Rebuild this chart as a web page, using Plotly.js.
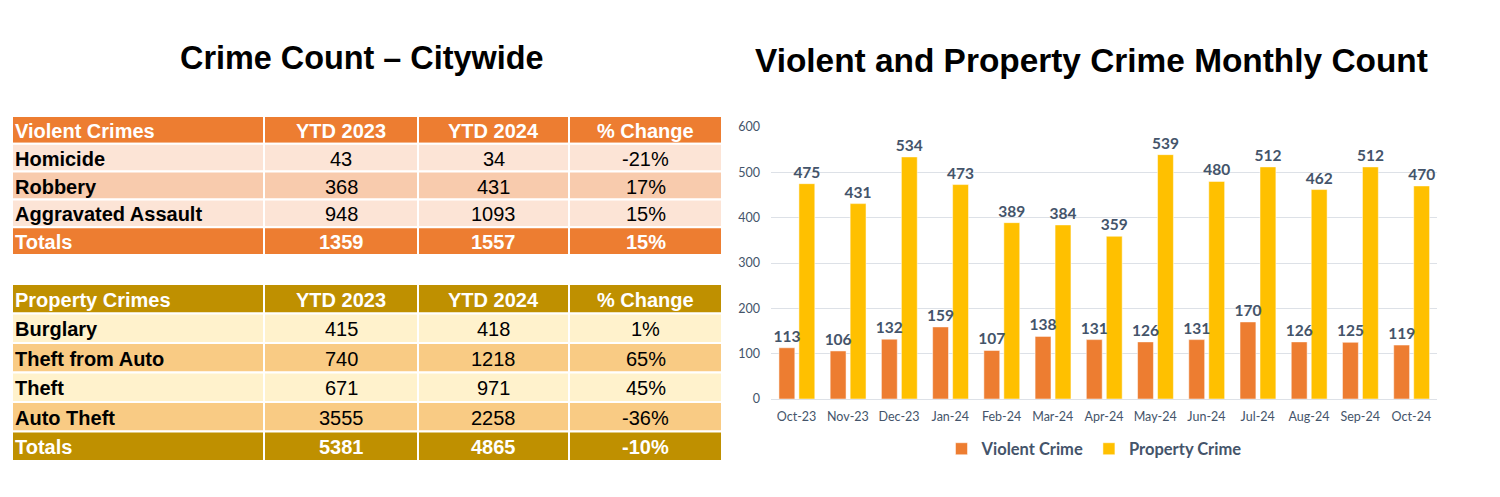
<!DOCTYPE html>
<html>
<head>
<meta charset="utf-8">
<script src="https://cdn.plot.ly/plotly-3.0.1.min.js"></script>
<style>
  html, body { margin: 0; padding: 0; background: #ffffff; }
  #chart { width: 1500px; height: 497px; }
</style>
</head>
<body>
<div id="chart"></div>
<script>
// ---- Violent crimes table ----
const violentNames = ['Homicide', 'Robbery', 'Aggravated Assault'];
const violentYTD2023 = [43, 368, 948];
const violentYTD2024 = [34, 431, 1093];
const violentChange = ['-21%', '17%', '15%'];
const violentTotals = [1359, 1557, '15%'];

// ---- Property crimes table ----
const propertyNames = ['Burglary', 'Theft from Auto', 'Theft', 'Auto Theft'];
const propertyYTD2023 = [415, 740, 671, 3555];
const propertyYTD2024 = [418, 1218, 971, 2258];
const propertyChange = ['1%', '65%', '45%', '-36%'];
const propertyTotals = [5381, 4865, '-10%'];

const tableColumns = ['YTD 2023', 'YTD 2024', '% Change'];

// ---- Monthly counts ----
const months = ['Oct-23', 'Nov-23', 'Dec-23', 'Jan-24', 'Feb-24', 'Mar-24', 'Apr-24',
                'May-24', 'Jun-24', 'Jul-24', 'Aug-24', 'Sep-24', 'Oct-24'];
const violentMonthly = [113, 106, 132, 159, 107, 138, 131, 126, 131, 170, 126, 125, 119];
const propertyMonthly = [475, 431, 534, 473, 389, 384, 359, 539, 480, 512, 462, 512, 470];

const W = 1500, H = 497;
const px = x => x / W;
const py = y => 1 - y / H;

const ARIAL = 'Arial, "Liberation Sans", sans-serif';
const LATO = 'Lato, Carlito, Calibri, sans-serif';
const SLATE = '#44546A';

// Relative column widths of the two tables (first column holds the crime names).
const colWidths = [252, 154, 151, 153];
const colEdges = colWidths.reduce((acc, w) => acc.concat([acc[acc.length - 1] + w]), [0]);
const tableSpan = colEdges[colEdges.length - 1];

const shapes = [];
const annotations = [];

// Draws one table on its own hidden axis pair: x in column-width units, y in row units.
function crimeTable(xref, yref, title, names, a, b, chg, totals, headColor, rowColors) {
  const rows = [];
  rows.push({ cells: ['<b>' + title + '</b>'].concat(tableColumns.map(t => '<b>' + t + '</b>')),
              fill: headColor, color: '#ffffff' });
  names.forEach((n, i) => rows.push({
    cells: ['<b>' + n + '</b>', String(a[i]), String(b[i]), chg[i]],
    fill: rowColors[i], color: '#000000' }));
  rows.push({ cells: ['<b>Totals</b>'].concat(totals.map(t => '<b>' + t + '</b>')),
              fill: headColor, color: '#ffffff' });

  rows.forEach((row, r) => {
    row.cells.forEach((txt, c) => {
      shapes.push({
        type: 'rect', xref: xref, yref: yref, layer: 'below',
        x0: colEdges[c], x1: colEdges[c + 1], y0: r, y1: r + 1,
        fillcolor: row.fill, line: { color: '#ffffff', width: 2 }
      });
      const left = c === 0;
      annotations.push({
        xref: xref, yref: yref, showarrow: false,
        x: left ? colEdges[c] + 1 : (colEdges[c] + colEdges[c + 1]) / 2,
        xanchor: left ? 'left' : 'center',
        y: r + 0.5, yanchor: 'middle', yshift: -1,
        text: txt, font: { family: ARIAL, size: 20, color: row.color }
      });
    });
  });
  return rows.length;
}

const violentRows = crimeTable('x2', 'y2', 'Violent Crimes', violentNames, violentYTD2023,
  violentYTD2024, violentChange, violentTotals, '#ED7D31', ['#FCE4D6', '#F8CBAD', '#FCE4D6']);
const propertyRows = crimeTable('x2', 'y3', 'Property Crimes', propertyNames, propertyYTD2023,
  propertyYTD2024, propertyChange, propertyTotals, '#BF9000', ['#FFF2CC', '#F9CB84', '#FFF2CC', '#F9CB84']);

// Titles
annotations.push(
  { text: '<b>Crime Count – Citywide</b>', xref: 'paper', yref: 'paper',
    x: px(362), y: py(58), xanchor: 'center', yanchor: 'middle', showarrow: false,
    font: { family: ARIAL, size: 32.4, color: '#000000' } },
  { text: '<b>Violent and Property Crime Monthly Count</b>', xref: 'paper', yref: 'paper',
    x: px(1091), y: py(60), xanchor: 'center', yanchor: 'middle', showarrow: false,
    font: { family: ARIAL, size: 33.4, color: '#000000' } }
);

const barText = { family: LATO, size: 15.5, color: SLATE, weight: 'bold' };

// Bars use explicit offsets so the violent series (drawn last, labels on top)
// still sits on the left of each month pair.
const propertyBars = {
  type: 'bar', name: 'Property Crime', x: months, y: propertyMonthly,
  offset: 0.045, width: 0.31, legendrank: 2,
  marker: { color: '#FFC000', line: { color: 'rgba(255,255,255,0.5)', width: 1 } },
  text: propertyMonthly.map(String), textposition: 'outside', textfont: barText,
  constraintext: 'none', cliponaxis: false, hoverinfo: 'none'
};
const violentBars = {
  type: 'bar', name: 'Violent Crime', x: months, y: violentMonthly,
  offset: -0.345, width: 0.31, legendrank: 1,
  marker: { color: '#ED7D31', line: { color: 'rgba(255,255,255,0.5)', width: 1 } },
  text: violentMonthly.map(String), textposition: 'outside', textfont: barText,
  constraintext: 'none', cliponaxis: false, hoverinfo: 'none'
};

const hiddenAxis = { visible: false, showgrid: false, zeroline: false, fixedrange: true };

const layout = {
  width: W, height: H,
  margin: { l: 0, r: 0, t: 0, b: 0 },
  paper_bgcolor: '#ffffff', plot_bgcolor: 'rgba(0,0,0,0)',
  barmode: 'group',
  showlegend: true,
  legend: {
    orientation: 'h', x: px(1094), xanchor: 'center', y: py(449), yanchor: 'middle',
    font: { family: LATO, size: 16.5, color: SLATE, weight: 'bold' },
    itemwidth: 30, traceorder: 'normal'
  },
  xaxis: {
    domain: [px(771), px(1437)], type: 'category',
    showgrid: false, showline: false, zeroline: false, ticks: '',
    tickfont: { family: LATO, size: 12.5, color: SLATE },
    ticklabelstandoff: 8, fixedrange: true
  },
  yaxis: {
    domain: [py(399), py(127)], range: [0, 600], dtick: 100,
    showgrid: true, gridcolor: '#DDE1E7', gridwidth: 1,
    zeroline: true, zerolinecolor: '#DDE1E7', zerolinewidth: 1,
    showline: false, ticks: '',
    tickfont: { family: LATO, size: 12.5, color: SLATE },
    ticklabelstandoff: 10, fixedrange: true
  },
  xaxis2: Object.assign({ domain: [px(12), px(722)], range: [0, tableSpan], anchor: 'y2' }, hiddenAxis),
  yaxis2: Object.assign({ domain: [py(255), py(116)], range: [violentRows, 0], anchor: 'x2' }, hiddenAxis),
  yaxis3: Object.assign({ domain: [py(461), py(284)], range: [propertyRows, 0], anchor: 'x2' }, hiddenAxis),
  shapes: shapes,
  annotations: annotations
};

Plotly.newPlot('chart', [propertyBars, violentBars], layout,
  { staticPlot: true, displayModeBar: false });
</script>
</body>
</html>
